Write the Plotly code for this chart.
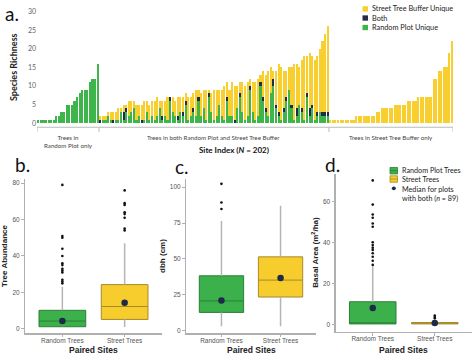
import plotly.graph_objects as go

W, H = 474, 360


def px(x):
    return x / W


def py(y):
    return 1 - y / H


# ---------------- Panel a data (species richness per site) ----------------
random_only = [1, 1, 1, 1, 1, 1, 1, 2, 2, 3, 3, 5, 5, 5, 6, 7, 8, 9, 9, 9, 11, 12, 12, 16]

both_green = [0, 1, 1, 2, 1, 0, 1, 1, 3, 1,
              3, 2, 3, 4, 1, 2, 0, 1, 3, 1,
              2, 1, 2, 4, 1, 2, 1, 6, 3, 2,
              1, 3, 2, 5, 1, 2, 3, 2, 6, 2,
              4, 1, 7, 3, 1, 2, 5, 2, 1, 6,
              2, 2, 0, 4, 7, 3, 1, 2, 9, 3,
              1, 2, 10, 6, 3, 2, 8, 10, 4, 2,
              1, 3, 6, 9, 4, 1, 2, 5, 3, 1,
              7, 2, 4, 1, 2, 3, 2, 2, 2]
both_shared = [1, 0, 0, 0, 0, 1, 0, 0, 0, 2,
               1, 0, 0, 0, 0, 0, 1, 0, 0, 0,
               0, 0, 0, 0, 1, 0, 0, 1, 0, 0,
               1, 0, 1, 1, 0, 0, 1, 0, 1, 0,
               0, 0, 1, 0, 0, 0, 0, 0, 0, 1,
               0, 0, 1, 0, 1, 0, 0, 0, 1, 0,
               0, 0, 1, 1, 1, 0, 0, 2, 1, 1,
               0, 1, 1, 0, 1, 0, 2, 0, 1, 0,
               1, 2, 1, 0, 1, 0, 1, 1, 1]
both_street = [1, 1, 1, 1, 2, 2, 2, 3, 1, 2,
               1, 4, 3, 2, 4, 3, 4, 5, 3, 4,
               4, 5, 5, 2, 4, 4, 6, 0, 4, 4,
               5, 4, 4, 2, 6, 5, 4, 7, 2, 6,
               5, 8, 1, 5, 8, 7, 4, 7, 9, 4,
               7, 9, 9, 6, 3, 8, 9, 9, 2, 8,
               10, 10, 2, 7, 9, 12, 7, 2, 9, 13,
               14, 10, 7, 6, 10, 15, 12, 10, 13, 17,
               10, 15, 13, 16, 15, 17, 19, 21, 23]

street_only = [1, 1, 1, 1, 1, 1, 1, 1, 1, 1,
               2, 2, 2, 2, 2, 2, 2, 2,
               3, 3,
               4, 4, 4, 4, 4,
               5, 5, 5, 5, 5,
               6, 6, 6, 6,
               7, 7, 7, 7, 7, 7,
               12, 12, 14, 14, 15, 15, 19, 22]

# ---------------- Panels b-d data (precomputed box statistics) ----------------
cats = ["Random Trees", "Street Trees"]

abund_q1 = [1.2, 5.2]
abund_med = [4.3, 12.3]
abund_q3 = [10.2, 24.3]
abund_lo = [1, 1]
abund_hi = [23, 47]
abund_out_random = [25, 26, 27, 31, 32, 33, 35, 36, 40, 44, 50, 51, 79]
abund_out_street = [54, 55, 61, 63, 64, 68, 69, 76]
abund_dot = [4.3, 14.3]

dbh_q1 = [12.7, 23.4]
dbh_med = [20.7, 35.2]
dbh_q3 = [38.2, 51.4]
dbh_lo = [3, 3]
dbh_hi = [76.4, 87]
dbh_out_random = [84.8, 89.3, 102.3]
dbh_out_street = []
dbh_dot = [21, 36.6]

ba_q1 = [0.2, 0.2]
ba_med = [0.6, 0.5]
ba_q3 = [11, 0.9]
ba_lo = [0, 0]
ba_hi = [28.2, 2.5]
ba_out_random = [29, 31, 33, 34.7, 36.3, 37.4, 38.7, 40, 47.6, 49.2, 52, 53.6, 58.4, 70.2]
ba_out_street = [3, 3.6, 4.3]
ba_dot = [8, 0.7]

# ---------------- styles ----------------
GREEN = "#3db54a"
NAVY = "#232c47"
YELLOW = "#f8cf2f"
BOX_FILL = ["#3cb04a", "#f6cd2c"]
BOX_LINE = ["#2a7f35", "#a8882c"]
WHISK = "#b5b5b5"
AXC = "#b0b0b0"
SANS_A = "Lato"
SANS_B = "Liberation Sans"

fig = go.Figure()

# ---------------- Panel a ----------------
n_r, n_b, n_s = len(random_only), len(both_green), len(street_only)
x_r = list(range(1, n_r + 1))
x_b = list(range(n_r + 1, n_r + n_b + 1))
x_s = list(range(n_r + n_b + 1, n_r + n_b + n_s + 1))
n_all = n_r + n_b + n_s

fig.add_trace(go.Bar(x=x_r + x_b, y=random_only + both_green, marker=dict(color=GREEN, line=dict(width=0)),
                     name="Random Plot Unique", xaxis="x", yaxis="y", showlegend=False, hoverinfo="skip"))
fig.add_trace(go.Bar(x=x_b, y=both_shared, marker=dict(color=NAVY, line=dict(width=0)),
                     name="Both", xaxis="x", yaxis="y", showlegend=False, hoverinfo="skip"))
fig.add_trace(go.Bar(x=x_b + x_s, y=both_street + street_only, marker=dict(color=YELLOW, line=dict(width=0)),
                     name="Street Tree Buffer Unique", xaxis="x", yaxis="y", showlegend=False, hoverinfo="skip"))

# ---------------- Panels b-d ----------------
panels = [
    ("x2", "y2", abund_q1, abund_med, abund_q3, abund_lo, abund_hi, [abund_out_random, abund_out_street], abund_dot),
    ("x3", "y3", dbh_q1, dbh_med, dbh_q3, dbh_lo, dbh_hi, [dbh_out_random, dbh_out_street], dbh_dot),
    ("x4", "y4", ba_q1, ba_med, ba_q3, ba_lo, ba_hi, [ba_out_random, ba_out_street], ba_dot),
]
for xa, ya, q1, med, q3, lo, hi, outs, dots in panels:
    for i, c in enumerate(cats):
        fig.add_trace(go.Scatter(x=[c, c, None, c, c], y=[lo[i], q1[i], None, q3[i], hi[i]],
                                 mode="lines", line=dict(color=WHISK, width=1.5),
                                 xaxis=xa, yaxis=ya, showlegend=False, hoverinfo="skip"))
        fig.add_trace(go.Box(x=[c], q1=[q1[i]], median=[med[i]], q3=[q3[i]],
                             lowerfence=[q1[i]], upperfence=[q3[i]], width=0.75,
                             fillcolor=BOX_FILL[i], line=dict(color=BOX_LINE[i], width=1),
                             whiskerwidth=0, boxpoints=False,
                             xaxis=xa, yaxis=ya, showlegend=False, hoverinfo="skip"))
        if outs[i]:
            fig.add_trace(go.Scatter(x=[c] * len(outs[i]), y=outs[i], mode="markers",
                                     marker=dict(color="#111111", size=2.6),
                                     xaxis=xa, yaxis=ya, showlegend=False, hoverinfo="skip"))
    fig.add_trace(go.Scatter(x=cats, y=dots, mode="markers",
                             marker=dict(color="#1e2a48", size=6.5),
                             xaxis=xa, yaxis=ya, showlegend=False, hoverinfo="skip"))

# ---------------- axes ----------------
tick_b = dict(family=SANS_B, size=6.5, color="#555555")


def box_xaxis(x0, x1, anchor):
    return dict(domain=[px(x0), px(x1)], anchor=anchor, type="category",
                categoryorder="array", categoryarray=cats, range=[-0.6, 1.6],
                showline=True, linecolor=AXC, linewidth=1.5, ticks="outside", ticklen=2.5,
                tickcolor=AXC, tickfont=tick_b, showgrid=False, zeroline=False,
                ticklabelstandoff=-2)


def box_yaxis(y0, y1, anchor, rng, tv, title):
    return dict(domain=[py(y1), py(y0)], anchor=anchor, range=rng, tickvals=tv,
                showline=True, linecolor=AXC, linewidth=1.5, ticks="outside", ticklen=2.5,
                tickcolor=AXC, tickfont=tick_b, showgrid=False, zeroline=False,
                title=dict(text=title, font=dict(family=SANS_B, size=8, color="#222222"), standoff=3))


layout_axes = dict(
    xaxis=dict(domain=[px(37), px(453)], anchor="y", range=[0.5, n_all + 0.5],
               showticklabels=False, showline=False, showgrid=False, zeroline=False, ticks=""),
    yaxis=dict(domain=[py(122), py(7)], anchor="x", range=[-0.1, 30.2], tickvals=[0, 5, 10, 15, 20, 25, 30],
               showline=False, showgrid=False, zeroline=False, ticks="",
               tickfont=dict(family=SANS_A, size=7, color="#666666"),
               title=dict(text="<b>Species Richness</b>", font=dict(family=SANS_A, size=9, color="#222222"),
                          standoff=8)),
    xaxis2=box_xaxis(25, 162, "y2"),
    yaxis2=box_yaxis(178, 336, "x2", [-2.5, 82.5], [0, 20, 40, 60, 80], "<b>Tree Abundance</b>"),
    xaxis3=box_xaxis(186, 316, "y3"),
    yaxis3=box_yaxis(178, 336, "x3", [-2, 106], [0, 25, 50, 75, 100], "<b>dbh (cm)</b>"),
    xaxis4=box_xaxis(335.5, 472, "y4"),
    yaxis4=box_yaxis(173, 334, "x4", [-3.5, 73.5], [0, 20, 40, 60], "<b>Basal Area (m<sup>2</sup>/ha)</b>"),
)

# ---------------- annotations & shapes ----------------
ann = []
shapes = []

# panel letters
for txt, x, y in [("a.", 3, -4), ("b.", 13, 150), ("c.", 173, 152), ("d.", 323, 150)]:
    ann.append(dict(text=txt, x=px(x), y=py(y), xref="paper", yref="paper", xanchor="left", yanchor="top",
                    showarrow=False, font=dict(family=SANS_A, size=19, color="#111111")))

# x-axis titles of panels b-d
for x0, x1 in [(25, 162), (186, 316), (335.5, 472)]:
    ann.append(dict(text="<b>Paired Sites</b>", x=px((x0 + x1) / 2), y=py(352.5), xref="paper", yref="paper",
                    xanchor="center", yanchor="middle", showarrow=False,
                    font=dict(family=SANS_B, size=8.5, color="#222222")))

# bracket under panel a
yb = py(125.7)
yt = py(130.5)
shapes.append(dict(type="line", xref="x", yref="paper", x0=0.5, x1=n_all + 0.5, y0=yb, y1=yb,
                   line=dict(color="#bbbbbb", width=1)))
for xv in [0.5, n_r + 0.5, n_r + n_b + 0.5, n_all + 0.5]:
    shapes.append(dict(type="line", xref="x", yref="paper", x0=xv, x1=xv, y0=yb, y1=yt,
                       line=dict(color="#bbbbbb", width=1)))

sec_font = dict(family=SANS_A, size=6.2, color="#444444")
ann.append(dict(text="Trees in<br>Random Plot only", x=(n_r + 1) / 2, y=py(131), xref="x", yref="paper",
                xanchor="center", yanchor="top", showarrow=False, font=sec_font))
ann.append(dict(text="Trees in both Random Plot and Street Tree Buffer", x=n_r + (n_b + 1) / 2, y=py(131),
                xref="x", yref="paper", xanchor="center", yanchor="top", showarrow=False, font=sec_font))
ann.append(dict(text="Trees in Street Tree Buffer only", x=n_r + n_b + (n_s + 1) / 2, y=py(131),
                xref="x", yref="paper", xanchor="center", yanchor="top", showarrow=False, font=sec_font))
ann.append(dict(text="<b>Site Index (<i>N</i> = 202)</b>", x=px(234), y=py(148.5), xref="paper", yref="paper",
                xanchor="center", yanchor="middle", showarrow=False,
                font=dict(family=SANS_A, size=8, color="#111111")))

# legend for panel a
for label, col, yc in [("Street Tree Buffer Unique", YELLOW, 5), ("Both", NAVY, 14.3), ("Random Plot Unique", GREEN, 24)]:
    shapes.append(dict(type="rect", xref="paper", yref="paper", x0=px(362.5), x1=px(368),
                       y0=py(yc + 2.7), y1=py(yc - 2.7), fillcolor=col, line=dict(width=0)))
    ann.append(dict(text=label, x=px(369.5), y=py(yc), xref="paper", yref="paper", xanchor="left",
                    yanchor="middle", showarrow=False, font=dict(family=SANS_A, size=7.3, color="#222222")))

# legend for panel d
for label, i, yc in [("Random Plot Trees", 0, 170), ("Street Trees", 1, 178.5)]:
    shapes.append(dict(type="rect", xref="paper", yref="paper", x0=px(390), x1=px(397.5),
                       y0=py(yc + 3.3), y1=py(yc - 3.3), fillcolor=BOX_FILL[i],
                       line=dict(color=BOX_LINE[i], width=0.8)))
    shapes.append(dict(type="line", xref="paper", yref="paper", x0=px(390), x1=px(397.5),
                       y0=py(yc), y1=py(yc), line=dict(color=BOX_LINE[i], width=0.8)))
    ann.append(dict(text=label, x=px(399.5), y=py(yc), xref="paper", yref="paper", xanchor="left",
                    yanchor="middle", showarrow=False, font=dict(family=SANS_A, size=7.2, color="#222222")))
shapes.append(dict(type="circle", xref="paper", yref="paper", x0=px(391.8), x1=px(395.8),
                   y0=py(190), y1=py(186), fillcolor="#1e2a48", line=dict(width=0)))
ann.append(dict(text="Median for plots<br>with both (<i>n</i> = 89)", x=px(399.5), y=py(182.5), xref="paper",
                yref="paper", xanchor="left", yanchor="top", align="left", showarrow=False,
                font=dict(family=SANS_A, size=7.2, color="#222222")))

fig.update_layout(
    width=W, height=H,
    margin=dict(l=0, r=0, t=0, b=0),
    paper_bgcolor="white", plot_bgcolor="white",
    barmode="stack", bargap=0.18,
    font=dict(family=SANS_B, color="#222222"),
    annotations=ann, shapes=shapes,
    hovermode=False,
    **layout_axes,
)

fig.write_html("out.html", config={"displayModeBar": False, "staticPlot": True},
               post_script="document.body.style.margin='0';document.body.style.padding='0';")
